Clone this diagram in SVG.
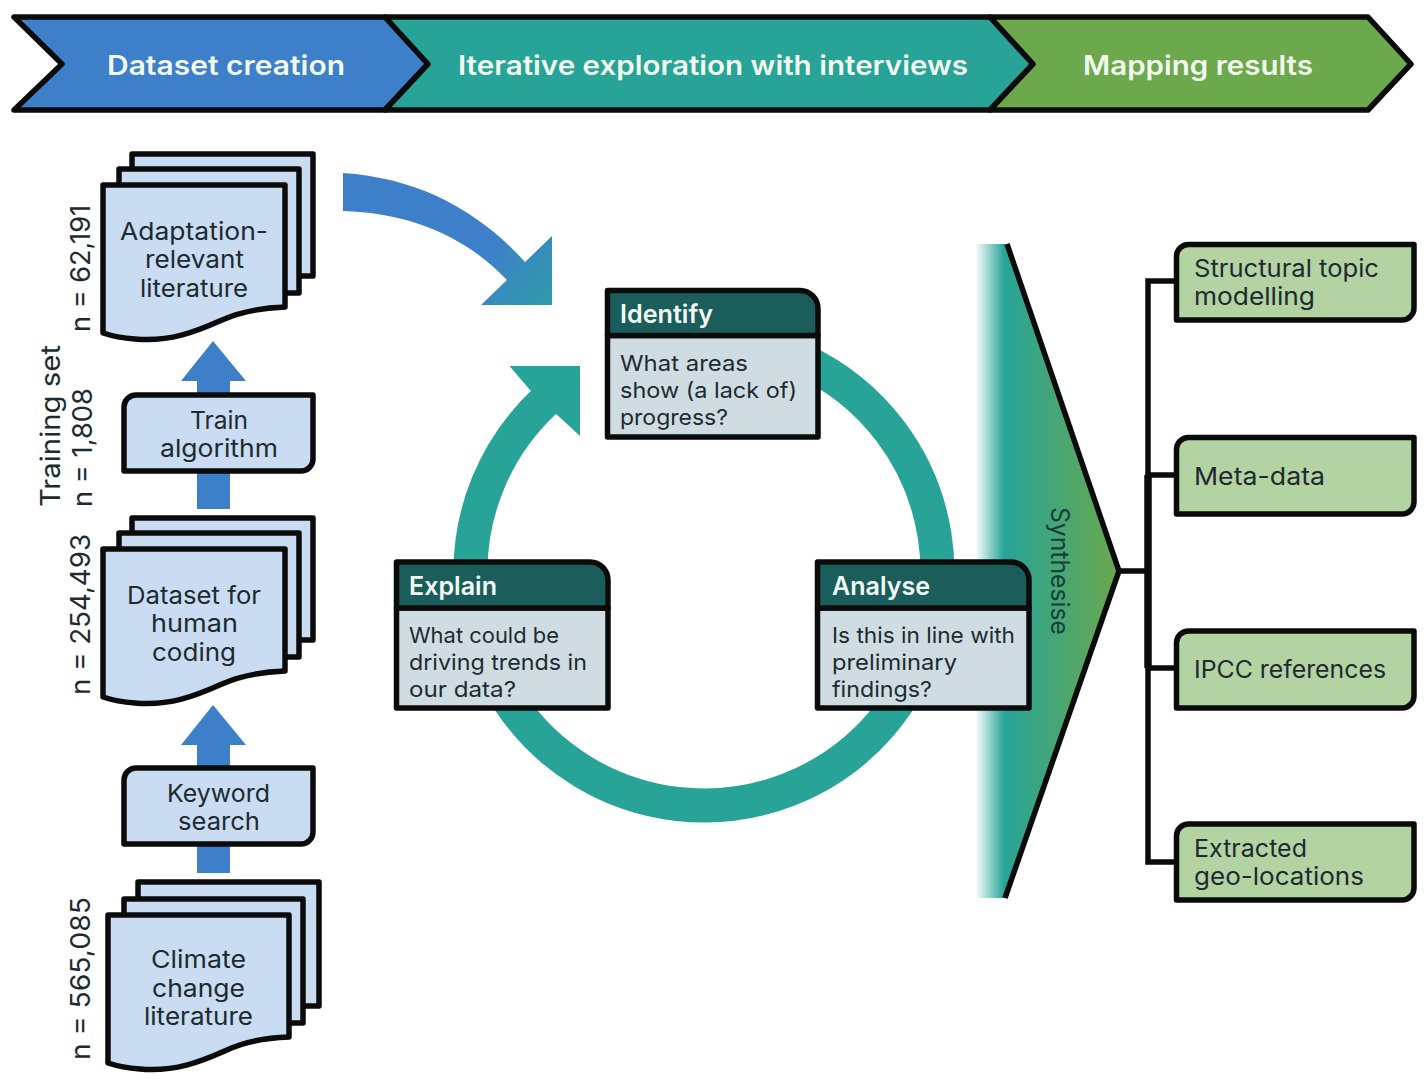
<svg xmlns="http://www.w3.org/2000/svg" xmlns:xlink="http://www.w3.org/1999/xlink" width="1425" height="1087" viewBox="0 0 1425 1087">
<style>
text{font-family:"Inter","Noto Sans","Liberation Sans",sans-serif;font-size:24.5px;fill:#1d2b30;font-weight:400}
.head{font-size:27px;font-weight:600;fill:#f2f9ee}
.card{font-size:25px;font-weight:600;fill:#f2f9f6}
.body{font-size:22px}
.rot{font-size:27px}
.s{stroke:#0b0b0b;stroke-width:5.5;stroke-linejoin:round}
.doc{fill:#c9dcf2}
.cardbody{fill:#cfdde3}
.cardhead{fill:#1a5d5a}
.out{fill:#b4d3a3}
.blue{fill:#3d7fc9}
</style>
<defs>
<linearGradient id="gBig" gradientUnits="userSpaceOnUse" x1="400" y1="170" x2="560" y2="310"><stop offset="0" stop-color="#3d7fc9"/><stop offset="0.55" stop-color="#3d7fc9"/><stop offset="1" stop-color="#2e9fa6"/></linearGradient>
<linearGradient id="gSyn" gradientUnits="userSpaceOnUse" x1="975" y1="0" x2="1120" y2="0"><stop offset="0" stop-color="#ffffff"/><stop offset="0.2" stop-color="#27a497"/><stop offset="1" stop-color="#6ca84c"/></linearGradient>
<g id="docs">
<path class="doc s" d="M132 154H313V276H132Z"/>
<path class="doc s" d="M119 169H299V293H119Z"/>
<path class="doc s" d="M103 185H285V307C258 308 240 312 222 320C195 332 170 342 135 339C122 338 112 336 103 333Z"/>
</g>
</defs>

<g id="banner">
<g id="phase-dataset"><path class="s blue" d="M14 17H385L428 64L385 110H14L62 64Z"/><text class="head" x="107" y="75" textLength="238" lengthAdjust="spacingAndGlyphs">Dataset creation</text></g>
<g id="phase-iterative"><path class="s" fill="#27a497" d="M385 17H990L1033 64L990 110H385L428 64Z"/><text class="head" x="458" y="75" textLength="510" lengthAdjust="spacingAndGlyphs">Iterative exploration with interviews</text></g>
<g id="phase-mapping"><path class="s" fill="#6ca84c" d="M990 17H1368L1411 64L1368 110H990L1033 64Z"/><text class="head" x="1083" y="75" textLength="230" lengthAdjust="spacingAndGlyphs">Mapping results</text></g>
</g>

<g id="connectors">
<path class="blue" d="M197 509H230V381H246L213 341L181 381H197Z"/>
<path class="blue" d="M197 873H230V745H246L213 705L181 745H197Z"/>
<path fill="url(#gBig)" d="M343 173C420 178 480 212 525 262L552 236V305H481L507 280C465 236 410 213 343 211Z"/>
<path fill="none" stroke="#27a497" stroke-width="34" d="M704 338.5A233.5 233.5 0 1 1 545.2 400.8"/>
<polygon fill="#27a497" points="509.5,366 580,366 580,436 555,413 530,390"/>
<g fill="none" stroke="#0b0b0b" stroke-width="5.5">
<path d="M1119 571H1148M1176 281H1148V862H1176M1148 475H1176M1148 668H1176"/>
<path stroke-width="7.5" d="M1148 475V668"/>
</g>
</g>

<g id="doc-adaptation"><use xlink:href="#docs" href="#docs"/>
<text x="120" y="240" textLength="148" lengthAdjust="spacingAndGlyphs">Adaptation-</text>
<text x="145" y="268" textLength="99" lengthAdjust="spacingAndGlyphs">relevant</text>
<text x="140" y="297" textLength="108" lengthAdjust="spacingAndGlyphs">literature</text></g>

<g id="box-train"><path class="doc s" d="M136 395H313V459A12 12 0 0 1 301 471H124V407A12 12 0 0 1 136 395Z"/>
<text x="190" y="429" textLength="58" lengthAdjust="spacingAndGlyphs">Train</text>
<text x="160" y="457" textLength="118" lengthAdjust="spacingAndGlyphs">algorithm</text></g>

<g id="doc-human"><use xlink:href="#docs" href="#docs" y="364"/>
<text x="127" y="604" textLength="134" lengthAdjust="spacingAndGlyphs">Dataset for</text>
<text x="151" y="632" textLength="87" lengthAdjust="spacingAndGlyphs">human</text>
<text x="152" y="661" textLength="84" lengthAdjust="spacingAndGlyphs">coding</text></g>

<g id="box-keyword"><path class="doc s" d="M136 768H313V832A12 12 0 0 1 301 844H124V780A12 12 0 0 1 136 768Z"/>
<text x="167" y="802" textLength="103" lengthAdjust="spacingAndGlyphs">Keyword</text>
<text x="178" y="830" textLength="82" lengthAdjust="spacingAndGlyphs">search</text></g>

<g id="doc-climate">
<path class="doc s" d="M138 882H319V1006H138Z"/>
<path class="doc s" d="M124 899H303V1023H124Z"/>
<path class="doc s" d="M108 915H289V1037C262 1038 244 1042 227 1050C200 1062 175 1072 140 1069C127 1068 117 1066 108 1063Z"/>
<text x="151" y="968" textLength="95" lengthAdjust="spacingAndGlyphs">Climate</text>
<text x="152" y="997" textLength="93" lengthAdjust="spacingAndGlyphs">change</text>
<text x="144" y="1025" textLength="109" lengthAdjust="spacingAndGlyphs">literature</text></g>

<g id="side-labels">
<text class="rot" transform="translate(90,332) rotate(-90)" textLength="127" lengthAdjust="spacingAndGlyphs">n = 62,191</text>
<text class="rot" transform="translate(60,507) rotate(-90)" textLength="162" lengthAdjust="spacingAndGlyphs">Training set</text>
<text class="rot" transform="translate(92,507) rotate(-90)" textLength="119" lengthAdjust="spacingAndGlyphs">n = 1,808</text>
<text class="rot" transform="translate(90,695) rotate(-90)" textLength="161" lengthAdjust="spacingAndGlyphs">n = 254,493</text>
<text class="rot" transform="translate(90,1060) rotate(-90)" textLength="163" lengthAdjust="spacingAndGlyphs">n = 565,085</text>
</g>

<g id="card-identify">
<path class="cardbody s" d="M607.5 335.5H818V437H607.5Z"/>
<path class="cardhead s" d="M607.5 290.5H800A18 18 0 0 1 818 308.5V335.5H607.5Z"/>
<text class="card" x="620" y="323" textLength="93" lengthAdjust="spacingAndGlyphs">Identify</text>
<text class="body" x="620" y="371" textLength="128" lengthAdjust="spacingAndGlyphs">What areas</text>
<text class="body" x="620" y="398" textLength="177" lengthAdjust="spacingAndGlyphs">show (a lack of)</text>
<text class="body" x="620" y="425" textLength="108" lengthAdjust="spacingAndGlyphs">progress?</text>
</g>

<g id="card-explain">
<path class="cardbody s" d="M396.5 608H608V708H396.5Z"/>
<path class="cardhead s" d="M396.5 562H590A18 18 0 0 1 608 580V608H396.5Z"/>
<text class="card" x="409" y="595" textLength="88" lengthAdjust="spacingAndGlyphs">Explain</text>
<text class="body" x="409" y="643" textLength="150" lengthAdjust="spacingAndGlyphs">What could be</text>
<text class="body" x="409" y="670" textLength="178" lengthAdjust="spacingAndGlyphs">driving trends in</text>
<text class="body" x="409" y="697" textLength="107" lengthAdjust="spacingAndGlyphs">our data?</text>
</g>

<g id="synthesise">
<path fill="url(#gSyn)" d="M975 244H1007L1119 571L1005 898H975Z"/>
<path fill="none" class="s" d="M1007 244L1119 571L1005 898"/>
<text style="fill:#123f3c;font-size:25px" transform="translate(1051,507) rotate(90)" textLength="128" lengthAdjust="spacingAndGlyphs">Synthesise</text>
</g>

<g id="card-analyse">
<path class="cardbody s" d="M817.5 608H1029V708H817.5Z"/>
<path class="cardhead s" d="M817.5 562H1011A18 18 0 0 1 1029 580V608H817.5Z"/>
<text class="card" x="832" y="595" textLength="98" lengthAdjust="spacingAndGlyphs">Analyse</text>
<text class="body" x="832" y="643" textLength="183" lengthAdjust="spacingAndGlyphs">Is this in line with</text>
<text class="body" x="832" y="670" textLength="125" lengthAdjust="spacingAndGlyphs">preliminary</text>
<text class="body" x="832" y="697" textLength="100" lengthAdjust="spacingAndGlyphs">findings?</text>
</g>

<g id="out-stm"><path class="out s" d="M1189 244.5H1414V308A12 12 0 0 1 1402 320H1176.5V257A12 12 0 0 1 1189 244.5Z"/>
<text x="1194" y="277" textLength="185" lengthAdjust="spacingAndGlyphs">Structural topic</text>
<text x="1194" y="305" textLength="121" lengthAdjust="spacingAndGlyphs">modelling</text></g>
<g id="out-meta"><path class="out s" d="M1189 437.5H1414V502A12 12 0 0 1 1402 514H1176.5V450A12 12 0 0 1 1189 437.5Z"/>
<text x="1194" y="485" textLength="131" lengthAdjust="spacingAndGlyphs">Meta-data</text></g>
<g id="out-ipcc"><path class="out s" d="M1189 631H1414V696A12 12 0 0 1 1402 708H1176.5V643A12 12 0 0 1 1189 631Z"/>
<text x="1194" y="678" textLength="192" lengthAdjust="spacingAndGlyphs">IPCC references</text></g>
<g id="out-geo"><path class="out s" d="M1189 824H1414V888A12 12 0 0 1 1402 900H1176.5V836A12 12 0 0 1 1189 824Z"/>
<text x="1194" y="857" textLength="113" lengthAdjust="spacingAndGlyphs">Extracted</text>
<text x="1194" y="885" textLength="170" lengthAdjust="spacingAndGlyphs">geo-locations</text></g>
</svg>
